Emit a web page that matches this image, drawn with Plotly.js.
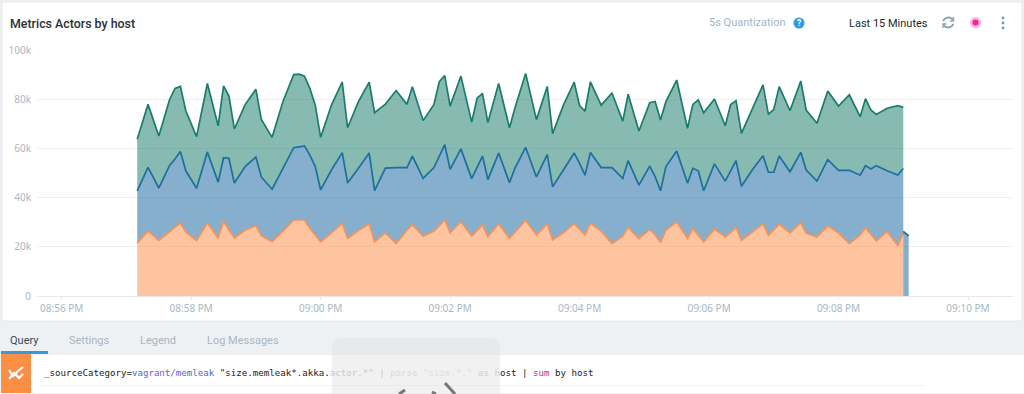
<!DOCTYPE html>
<html><head><meta charset="utf-8">
<script src="https://cdn.plot.ly/plotly-3.0.1.min.js"></script>
<style>html,body{margin:0;padding:0;background:#eef1f3}#c{width:1024px;height:394px}</style>
</head><body><div id="c"></div>
<script>
// sample number (5 s apart, first sample 20:57:10)
const steps=[0,2,4,6,7,8,9,11,13,15,16,17,18,20,22,23,25,27,29,30,31,32,33,34,36,38,39,41,43,44,46,48,50,51,53,55,56,57,58,60,62,63,64,65,67,69,70,72,74,76,77,79,81,82,83,84,86,88,90,91,93,95,96,97,98,100,102,103,104,105,107,109,110,111,112,114,116,117,118,119,121,123,124,126,128,130,132,134,135,136,137,139,141,142];
// stacked tops, in thousands
const greenTop=[63.7,77.9,65.0,79.9,84.4,85.2,75.3,64.8,86.4,69.2,85.4,81.3,67.9,77.8,84.0,71.8,64.5,79.0,90.0,90.2,89.4,84.4,77.6,64.5,77.6,87.0,68.4,79.0,86.9,74.5,78.0,83.5,77.9,85.1,71.3,77.9,87.1,89.6,77.2,89.4,70.7,80.4,82.4,70.5,86.4,68.4,76.3,90.4,71.7,85.2,66.0,77.6,86.9,77.4,75.1,87.0,77.6,82.5,71.1,82.0,67.1,78.6,79.1,71.5,79.0,87.8,68.2,77.9,79.7,74.5,80.1,69.2,77.8,79.4,66.1,75.6,85.8,73.8,75.9,85.1,75.3,87.4,75.6,70.2,83.3,77.2,81.8,72.9,80.2,75.6,73.8,76.3,77.4,76.7];
const blueTop=[42.7,52.3,43.9,53.1,55.7,58.7,50.9,43.8,58.5,46.3,56.2,56.0,45.9,52.6,56.5,48.4,43.4,51.9,60.3,60.6,61.0,57.3,52.6,43.1,51.2,58.3,45.9,51.9,58.1,42.8,52.0,52.2,52.2,56.9,47.8,52.2,56.6,61.5,51.5,59.8,47.7,52.6,56.9,47.3,58.1,46.1,51.9,60.4,48.4,57.5,44.4,51.2,58.1,53.9,49.1,58.3,52.2,52.2,47.8,55.0,45.1,52.8,48.5,42.8,52.6,58.9,45.9,51.9,50.9,42.8,53.7,46.7,50.9,55.0,44.6,51.2,57.0,50.3,50.3,56.9,50.5,58.4,51.2,46.7,55.4,51.1,51.1,49.1,53.0,51.6,53.0,50.9,49.2,51.8];
const orangeTop=[21.5,26.4,22.6,26.2,27.8,29.7,26.0,22.6,29.7,23.6,30.4,27.0,23.6,26.7,28.6,24.5,22.1,26.4,30.8,30.9,30.9,27.5,24.8,22.0,25.7,29.5,23.4,26.6,29.4,22.0,25.7,21.3,26.8,29.0,24.3,26.4,28.6,31.0,25.7,30.2,24.4,26.8,28.9,24.1,29.4,23.4,25.9,30.8,24.8,29.3,22.8,25.7,29.4,27.2,24.9,29.5,26.4,21.3,24.3,27.9,23.3,27.1,24.8,21.8,26.8,30.1,23.4,27.4,24.7,22.0,27.2,24.0,25.9,27.8,22.6,25.9,29.3,24.7,26.8,29.1,25.7,29.8,25.5,24.0,28.5,25.6,21.3,24.8,27.8,25.1,22.4,26.2,20.5,25.7];
const tailSteps=[142,143];
const tailTop=[26.3,24.5];
const yTicks=[0,20,40,60,80,100];
const yLabels=['0','20k','40k','60k','80k','100k'];
const xTicks=['2020-01-01 20:56:00','2020-01-01 20:58:00','2020-01-01 21:00:00','2020-01-01 21:02:00','2020-01-01 21:04:00','2020-01-01 21:06:00','2020-01-01 21:08:00','2020-01-01 21:10:00'];
const xLabels=['08:56 PM','08:58 PM','09:00 PM','09:02 PM','09:04 PM','09:06 PM','09:08 PM','09:10 PM'];

const W=1024,H=394,L=37,R=11,T=50,B=98;
const start=Date.UTC(2020,0,1,20,57,10);
const iso=s=>new Date(start+s*5000).toISOString().replace('T',' ').replace('Z','');
const fx=x=>(x-L)/(W-L-R), fy=y=>1-(y-T)/(H-T-B);
const rect=(x0,y0,x1,y1,fill,line,layer)=>({type:'rect',xref:'paper',yref:'paper',x0:fx(x0),x1:fx(x1),y0:fy(y1),y1:fy(y0),fillcolor:fill,line:line||{width:0},layer:layer||'below'});
const circ=(cx,cy,r,fill)=>({type:'circle',xref:'paper',yref:'paper',x0:fx(cx-r),x1:fx(cx+r),y0:fy(cy+r),y1:fy(cy-r),fillcolor:fill,line:{width:0},layer:'above'});
const poly=(pts,color,w)=>{const d=pts.map((p,i)=>(i?'L':'M')+fx(p[0]).toFixed(5)+','+fy(p[1]).toFixed(5)).join(' ');return {type:'path',xref:'paper',yref:'paper',layer:'above',line:{color:color,width:w},path:d};};
const quad=(a,c,b,color,w)=>({type:'path',xref:'paper',yref:'paper',layer:'above',line:{color:color,width:w},
  path:`M${fx(a[0])},${fy(a[1])} Q${fx(c[0])},${fy(c[1])} ${fx(b[0])},${fy(b[1])}`});
const txt=(x,y,t,size,color,anchor,family,weight)=>({xref:'paper',yref:'paper',x:fx(x),y:fy(y),text:t,showarrow:false,xanchor:anchor||'left',yanchor:'middle',
  font:{size:size,color:color,family:family||'Roboto',weight:weight||400},borderpad:0,borderwidth:0});
const pt=(x,y)=>fx(x)+','+fy(y);

const xs=steps.map(iso);
const traces=[
 {x:xs,y:orangeTop,name:'host 1',mode:'lines',line:{color:'#f5935a',width:1.7},fill:'tozeroy',fillcolor:'rgba(251,137,63,0.5)'},
 {x:xs,y:blueTop,name:'host 2',mode:'lines',line:{color:'#1c6f9f',width:1.7},fill:'tonexty',fillcolor:'rgba(13,95,155,0.5)'},
 {x:xs,y:greenTop,name:'host 3',mode:'lines',line:{color:'#1a7d6c',width:1.7},fill:'tonexty',fillcolor:'rgba(15,118,100,0.5)'},
 {x:tailSteps.map(iso),y:tailTop,name:'tail',mode:'lines',line:{color:'#1c6f9f',width:1.7},fill:'tozeroy',fillcolor:'rgba(13,95,155,0.5)'}
];
const qText='_sourceCategory=<span style="color:#5566d8">vagrant/memleak</span> "size.memleak*.akka.<span style="color:#c9c9c9">actor.*" | </span><span style="color:#e6d2e6">parse </span><span style="color:#ecdcd6">"size.*."</span><span style="color:#cfcfcf"> as h</span>ost | <span style="color:#a4379f">sum</span> by host';
const layout={width:W,height:H,margin:{l:L,r:R,t:T,b:B,pad:0},paper_bgcolor:'#eef1f3',plot_bgcolor:'rgba(0,0,0,0)',showlegend:false,
 font:{family:'Noto Sans'},
 xaxis:{type:'date',range:['2020-01-01 20:55:37.1','2020-01-01 21:10:41.7'],tickvals:xTicks,ticktext:xLabels,showgrid:false,zeroline:false,showline:true,linecolor:'#e3e9ef',linewidth:1,ticks:'outside',ticklen:3,tickcolor:'#e3e9ef',tickfont:{size:10,color:'#a9b7c5',family:'Noto Sans'}},
 yaxis:{range:[0,100],tickvals:yTicks,ticktext:yLabels,showgrid:true,gridcolor:'#eef1f4',gridwidth:1,zeroline:false,showline:false,ticks:'outside',ticklen:3,tickcolor:'rgba(0,0,0,0)',tickfont:{size:10,color:'#a9b7c5',family:'Noto Sans'}},
 shapes:[
  rect(2,2,1022,321,'#ffffff',{color:'#e4e8ec',width:1}),
  rect(1,355,1024,393,'#ffffff',{width:0}),
  rect(40,385,925,386,'#f0f2f4',{width:0}),
  rect(1,351,48,354,'#3a9ad9',{width:0},'above'),
  rect(1,354,31,393,'#fa8f45',{width:0},'above'),
  poly([[9,370],[13,376],[18,371],[23,367]],'#ffffff',2.2),
  poly([[9,379],[14,373],[19,378],[23,374]],'#ffffff',2.2),
  {type:'path',xref:'paper',yref:'paper',layer:'above',line:{width:0},fillcolor:'rgba(225,225,225,0.45)',
   path:`M${pt(332,394)} L${pt(332,348)} Q${pt(332,338)} ${pt(342,338)} L${pt(490,338)} Q${pt(500,338)} ${pt(500,348)} L${pt(500,394)} Z`},
  poly([[445,383],[455,394]],'#777777',3),
  poly([[432,392],[436,394]],'#777777',3),
  poly([[399,394],[405,390]],'#777777',3),
  circ(799,23,5.5,'#2b9be3'),
  quad([943,21],[945,17.5],[949,17.5],'#8ea3b5',1.8),
  quad([949,17.5],[951.5,17.5],[953,20],'#8ea3b5',1.8),
  quad([953.5,24],[951.5,27.5],[948,27.5],'#8ea3b5',1.8),
  quad([948,27.5],[945,27.5],[943.5,25],'#8ea3b5',1.8),
  poly([[953.5,17],[953.5,21],[950,21]],'#8ea3b5',1.3),
  poly([[943,28],[943,24],[946.5,24]],'#8ea3b5',1.3),
  circ(975.5,22.5,5.5,'rgba(245,120,200,0.55)'),
  circ(975.5,22.5,3,'#f0259c'),
  circ(1003,18,1.4,'#7f97ab'),circ(1003,23,1.4,'#7f97ab'),circ(1003,28,1.4,'#7f97ab')
 ],
 annotations:[
  txt(10,24,'Metrics Actors by host',12.4,'#2b3036','left','Roboto',500),
  txt(709,23,'5s Quantization',11,'#a3b5c6'),
  txt(799,23,'?',8.5,'#ffffff','center','Roboto',700),
  txt(849,24,'Last 15 Minutes',11,'#26292c'),
  txt(10,340,'Query',11,'#3c4a55'),
  txt(69,340,'Settings',11,'#a9b6c2'),
  txt(140,340,'Legend',11,'#a9b6c2'),
  txt(207,340,'Log Messages',11,'#a9b6c2'),
  txt(44,373,qText,9.15,'#222222','left','DejaVu Sans Mono')
 ]
};
Plotly.newPlot('c',traces,layout,{displayModeBar:false,staticPlot:true});
</script></body></html>
